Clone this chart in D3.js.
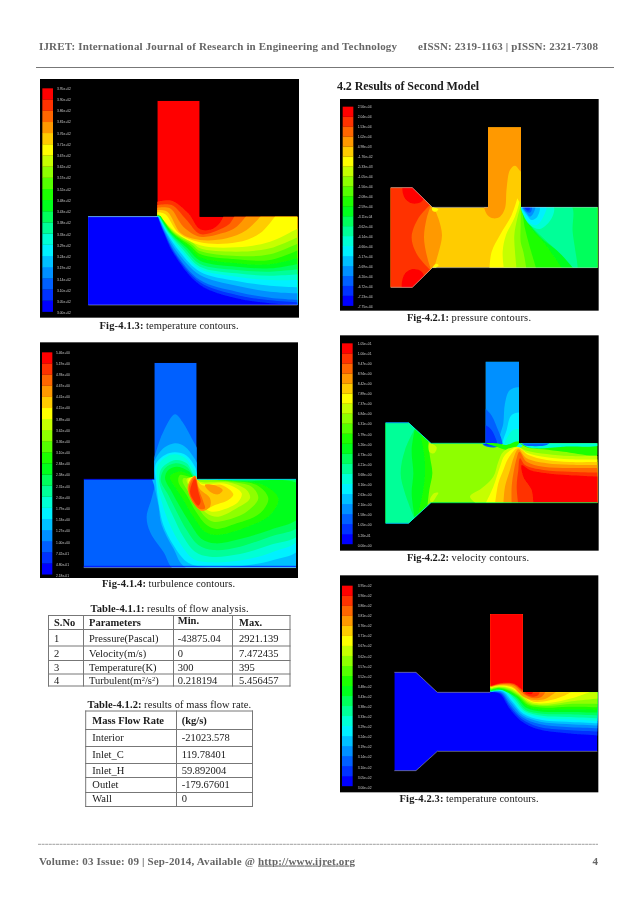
<!DOCTYPE html>
<html><head><meta charset="utf-8">
<script src="https://cdn.jsdelivr.net/npm/d3@7"></script>
<style>html,body{margin:0;background:#fff}svg{display:block}</style></head>
<body><svg id="page" width="638" height="903"></svg>
<script>
// Legend tick labels (top to bottom)
const temperatureLabels=["3.95e+02","3.90e+02","3.86e+02","3.81e+02","3.76e+02","3.71e+02","3.67e+02","3.62e+02","3.57e+02","3.52e+02","3.48e+02","3.43e+02","3.38e+02","3.33e+02","3.29e+02","3.24e+02","3.19e+02","3.14e+02","3.10e+02","3.05e+02","3.00e+02"];
const turbulenceLabels=["5.46e+00","5.19e+00","4.93e+00","4.67e+00","4.41e+00","4.15e+00","3.89e+00","3.62e+00","3.36e+00","3.10e+00","2.84e+00","2.58e+00","2.31e+00","2.05e+00","1.79e+00","1.53e+00","1.27e+00","1.00e+00","7.42e-01","4.80e-01","2.18e-01"];
const pressureLabels=["2.56e+04","2.04e+04","1.53e+04","1.02e+04","4.98e+03","-1.76e+02","-5.33e+03","-1.05e+04","-1.56e+04","-2.08e+04","-2.59e+04","-3.11e+04","-3.62e+04","-4.14e+04","-4.66e+04","-5.17e+04","-5.69e+04","-6.20e+04","-6.72e+04","-7.23e+04","-7.75e+04"];
const velocityLabels=["1.05e+01","1.00e+01","9.47e+00","8.94e+00","8.42e+00","7.89e+00","7.37e+00","6.84e+00","6.31e+00","5.79e+00","5.26e+00","4.73e+00","4.21e+00","3.68e+00","3.16e+00","2.63e+00","2.10e+00","1.58e+00","1.05e+00","5.26e-01","0.00e+00"];

// Flow domains and contour bands, in mesh units. Band: [level, isoline, optional closing points]
const fig413Domain=[[382,92],[509,92],[509,440],[802,440],[802,705],[175,705],[175,440],[382,440]];
const fig413Close=[[812,435],[812,720],[160,720],[160,380]];
const fig413Bands=[
[18,[[382,395],[425,392],[475,430],[510,478],[545,478],[570,458],[582,435]],fig413Close],
[17,[[382,405],[425,405],[470,450],[510,492],[560,482],[598,462],[615,435]],fig413Close],
[16,[[382,413],[420,415],[460,470],[510,500],[575,490],[620,470],[650,435]],fig413Close],
[15,[[382,420],[412,425],[453,490],[510,510],[590,505],[650,480],[695,435]],fig413Close],
[14,[[382,427],[405,432],[447,490],[510,517],[620,517],[690,490],[738,435]],fig413Close],
[13,[[384,432],[441,490],[510,526],[620,532],[720,515],[812,470]],fig413Close],
[12,[[388,436],[436,490],[490,520],[510,535],[620,545],[720,535],[812,497]],fig413Close],
[11,[[392,438],[432,490],[486,524],[510,543],[620,558],[720,553],[812,517]],fig413Close],
[10,[[392,439],[429,490],[482,528],[510,552],[620,568],[720,570],[812,537]],fig413Close],
[9,[[391,439],[426,490],[478,532],[510,562],[620,580],[720,583],[812,562]],fig413Close],
[8,[[390,440],[423,490],[472,535],[510,572],[620,590],[720,595],[812,580]],fig413Close],
[7,[[389,440],[420,490],[466,538],[510,582],[620,600],[720,605],[812,597]],fig413Close],
[6,[[388,440],[417,490],[460,540],[510,590],[620,610],[720,617],[812,612]],fig413Close],
[5,[[387,440],[414,490],[454,542],[510,597],[620,620],[720,630],[812,630]],fig413Close],
[4,[[386,441],[411,490],[448,544],[510,605],[620,633],[720,647],[812,652]],fig413Close],
[3,[[385,441],[408,490],[442,546],[510,615],[620,647],[720,665],[812,670]],fig413Close],
[2,[[384,441],[405,490],[436,548],[510,630],[620,665],[720,683],[812,690]],fig413Close],
[1,[[383.5,441],[403.5,490],[433,549],[510,637],[620,675],[720,691],[812,698]],fig413Close],
[0,[[383,441],[402,490],[430,550],[510,645],[620,685],[720,700],[812,706]],fig413Close],
];
const fig413Walls=[[-1,[[175,440],[382,440]]],[-1,[[175,705],[802,705]]]];

const fig414Domain=[[373,83],[500,83],[500,433],[798,433],[798,698],[161,698],[161,433],[373,433]];
const fig414Bands=[
[3,[[435,238],[460,265],[485,310],[510,360],[520,425],[810,425],[810,710],[440,710],[400,650],[360,590],[350,545],[365,490],[375,440],[365,400],[378,350],[400,290]]],
[4,[[435,325],[465,335],[490,365],[510,400],[525,425],[810,425],[810,710],[470,700],[430,640],[395,570],[385,510],[372,450],[362,410],[395,345]]],
[5,[[435,352],[470,362],[495,395],[510,425],[810,425],[810,640],[730,675],[640,692],[520,696],[470,680],[430,630],[400,570],[385,500],[378,440],[376,390],[405,360]]],
[6,[[435,358],[465,368],[490,400],[510,428],[810,428],[810,610],[730,650],[640,675],[540,682],[490,672],[450,625],[420,570],[398,510],[382,440],[384,390],[410,365]]],
[7,[[437,375],[470,385],[492,420],[510,434],[810,436],[810,595],[720,630],[630,657],[540,665],[495,650],[460,605],[430,545],[405,490],[388,440],[395,400]]],
[8,[[437,385],[470,395],[495,430],[510,438],[810,442],[810,570],[720,605],[630,635],[550,645],[505,630],[470,585],[440,530],[415,480],[392,435],[405,400]]],
[9,[[440,395],[475,408],[497,432],[600,440],[810,450],[810,545],[720,585],[630,612],[555,625],[515,612],[480,565],[450,515],[425,470],[405,430],[415,405]]],
[10,[[445,410],[480,420],[498,432],[600,437],[700,450],[745,490],[720,540],[640,580],[560,600],[525,590],[490,545],[460,495],[438,460],[420,425]]],
[11,[[450,420],[490,428],[600,437],[680,450],[715,490],[690,535],[620,565],[560,582],[530,570],[498,530],[470,480],[445,440]]],
[12,[[460,430],[490,432],[600,440],[665,455],[685,490],[650,530],[590,555],[550,560],[525,545],[500,510],[475,470],[458,440]]],
[13,[[470,432],[492,428],[510,440],[600,443],[650,465],[660,490],[620,520],[565,545],[530,535],[500,495],[480,460]]],
[14,[[475,435],[495,425],[512,445],[590,447],[635,475],[625,500],[585,522],[545,530],[520,515],[495,480]]],
[15,[[478,440],[495,423],[515,450],[575,450],[610,478],[595,495],[555,510],[530,520],[505,500],[485,470]]],
[16,[[473,455],[495,422],[508,460],[540,490],[540,515],[515,528],[490,505]]],
[16,[[525,450],[550,450],[578,465],[565,478],[540,470]]],
[17,[[476,460],[495,424],[505,460],[520,500],[525,520],[510,522],[488,500]]],
[18,[[480,470],[495,430],[505,470],[512,500],[505,512],[490,495]]],
];
const fig414Walls=[[0,[[161,433],[373,433]]],[4,[[500,433],[798,433]]],[0,[[161,694],[798,694]]],[-1,[[161,698],[798,698]]]];

const fig421Domain=[[182,338],[247,338],[307,397],[474,397],[474,157],[573,157],[573,397],[802,397],[802,578],[307,578],[247,637],[182,637]];
const fig421InletClose=[[300,660],[170,660],[170,320],[300,320]];
const fig421OutletClose=[[812,585],[812,390],[573,390]];
const fig421Bands=[
[16,[[590,300],[573,290],[555,272],[540,285],[530,340],[525,400],[510,425],[490,430],[472,420],[462,397]],[[462,140],[590,140]]],
[16,[[308,390],[325,430],[336,480],[325,535],[310,585]],fig421InletClose],
[17,[[303,390],[290,430],[282,487],[290,540],[303,584]],fig421InletClose],
[18,[[300,390],[265,430],[245,487],[262,540],[300,584]],fig421InletClose],
[19,[[220,330],[222,365],[245,385],[272,382],[282,365],[250,330]]],
[19,[[218,645],[222,600],[245,583],[272,588],[282,605],[250,645]]],
[14,[[306,397],[325,403],[318,410],[308,408]]],
[14,[[308,578],[318,566],[326,570],[315,580]]],
[14,[[562,370],[545,420],[510,480],[485,530],[478,585]],fig421OutletClose],
[13,[[570,375],[555,425],[528,480],[518,530],[522,585]],fig421OutletClose],
[12,[[573,390],[562,430],[553,480],[555,530],[560,585]],fig421OutletClose],
[11,[[573,392],[572,450],[572,500],[580,530],[590,585]],fig421OutletClose],
[10,[[575,395],[585,460],[595,500],[620,585]],fig421OutletClose],
[9,[[575,396],[600,455],[640,500],[700,585]],fig421OutletClose],
[8,[[575,396],[600,450],[640,495],[700,540],[745,590]],fig421OutletClose],
[7,[[575,390],[722,390],[728,470],[742,590],[735,585],[695,540],[640,490],[598,445]]],
[6,[[575,393],[670,393],[665,430],[630,462],[600,450],[580,420]]],
[5,[[575,393],[648,393],[640,425],[620,450],[600,445],[582,420]]],
[4,[[575,393],[628,393],[622,425],[605,435],[590,420]]],
[3,[[577,393],[615,393],[610,415],[600,425],[590,415]]],
[2,[[578,393],[605,393],[602,412],[592,412]]],
[1,[[582,393],[598,393],[598,406],[590,405]]],
];
const fig421Walls=[[-1,[[182,338],[247,338],[307,397],[474,397]]],[-1,[[182,637],[247,637],[307,578],[802,578]]],[-1,[[573,397],[802,397]]]];

const fig422Domain=[[167,278],[235,278],[303,340],[467,340],[467,95],[567,95],[567,340],[802,340],[802,518],[303,518],[235,580],[167,580]];
const fig422InletClose=[[290,600],[150,600],[150,260],[290,260]];
const fig422OutletClose=[[812,526]];
const fig422Bands=[
[10,[[295,333],[300,380],[307,430],[298,480],[292,532]],fig422InletClose],
[9,[[268,300],[282,370],[285,430],[278,490],[262,560]],fig422InletClose],
[8,[[255,295],[245,360],[250,430],[245,490],[255,570]],fig422InletClose],
[7,[[255,295],[225,360],[212,430],[225,490],[255,570]],fig422InletClose],
[13,[[298,340],[320,352],[312,370],[298,365]]],
[13,[[300,510],[312,490],[325,488],[320,498],[305,518]]],
[3,[[460,90],[575,90]],[[575,342],[460,342]]],
[4,[[575,175],[540,180],[525,220],[520,280],[510,330],[530,345],[575,345]]],
[5,[[575,250],[545,255],[530,300],[520,345],[575,350]]],
[6,[[572,300],[550,300],[530,325],[525,345],[572,345]]],
[2,[[460,235],[480,250],[500,290],[515,345],[460,345]]],
[1,[[460,285],[480,295],[495,320],[500,342],[460,342]]],
[10,[[467,340],[500,350],[530,360],[550,358],[568,336],[555,335],[530,345],[500,340]]],
[10,[[565,335],[812,335],[812,372],[700,365],[640,358],[590,352]]],
[6,[[570,335],[812,335],[812,345],[700,350],[620,355],[590,350]]],
[2,[[575,335],[660,335],[650,345],[600,348],[582,345]]],
[13,[[440,522],[420,500],[455,475],[490,440],[505,395],[520,365],[560,350],[590,362],[650,372],[720,378],[812,378]],fig422OutletClose],
[14,[[465,524],[490,470],[510,410],[525,375],[562,352],[590,368],[650,382],[720,388],[812,388]],fig422OutletClose],
[15,[[495,524],[505,460],[520,420],[535,385],[564,354],[595,375],[650,390],[720,396],[812,396]],fig422OutletClose],
[16,[[520,524],[525,470],[540,420],[552,380],[565,358],[590,385],[650,400],[720,404],[812,405]],fig422OutletClose],
[17,[[545,524],[545,470],[552,420],[560,385],[568,365],[590,395],[640,410],[720,414],[812,414]],fig422OutletClose],
[18,[[565,524],[560,470],[565,420],[570,385],[585,405],[640,420],[720,425],[812,428]],fig422OutletClose],
[19,[[610,524],[605,480],[580,440],[575,405],[600,420],[650,430],[720,436],[812,440]],fig422OutletClose],
];
const fig422Walls=[[2,[[167,278],[235,278]]],[5,[[235,278],[303,340]]],[7,[[303,340],[467,340]]],[3,[[167,580],[235,580]]],[5,[[235,580],[303,518]]],[8,[[303,518],[802,518]]]];

const fig423Domain=[[193,307],[258,307],[322,367],[481,367],[481,133],[578,133],[578,367],[802,367],[802,544],[322,544],[258,602],[193,602]];
const fig423Close=[[812,120],[470,120]];
const fig423Bands=[
[1,[[481,366],[510,372],[538,415],[572,452],[625,478],[710,490],[812,497]],fig423Close],
[2,[[481,366],[512,370],[540,410],[574,446],[625,470],[710,480],[812,485]],fig423Close],
[3,[[481,366],[514,368],[542,405],[576,441],[628,462],[710,471],[812,475]],fig423Close],
[4,[[481,366],[516,366],[545,400],[578,436],[630,455],[710,462],[812,467]],fig423Close],
[5,[[481,365],[518,364],[548,396],[580,431],[632,449],[710,455],[812,460]],fig423Close],
[6,[[481,365],[520,362],[551,392],[582,427],[634,443],[710,448],[812,453]],fig423Close],
[7,[[481,364],[522,361],[554,388],[584,423],[636,437],[710,441],[812,445]],fig423Close],
[8,[[481,364],[524,361],[557,385],[586,419],[638,431],[710,433],[812,437]],fig423Close],
[9,[[481,363],[505,358],[528,365],[559,382],[590,414],[640,425],[710,426],[812,428]],fig423Close],
[10,[[481,362],[506,356],[530,363],[561,380],[593,410],[643,419],[710,418],[812,420]],fig423Close],
[11,[[481,360],[507,355],[533,361],[563,378],[596,406],[647,413],[715,410],[812,412]],fig423Close],
[12,[[481,358],[508,353],[536,359],[565,376],[599,403],[650,408],[720,402],[812,402]],fig423Close],
[13,[[481,356],[509,351],[539,357],[568,374],[602,400],[655,404],[725,394],[812,385]],fig423Close],
[14,[[481,354],[510,349],[542,355],[571,372],[606,397],[655,399],[725,385],[790,362]],fig423Close],
[15,[[481,352],[511,347],[545,352],[575,376],[610,395],[650,393],[700,378],[730,362]],fig423Close],
[16,[[481,351],[511,345],[548,350],[580,380],[612,390],[645,387],[670,372],[690,358]],fig423Close],
[17,[[481,350],[512,343],[550,346],[585,375],[612,385],[635,380],[650,360]],fig423Close],
[18,[[481,349],[512,341],[552,343],[590,375],[610,380],[625,375],[632,358]],fig423Close],
[19,[[481,348],[513,339],[553,341],[572,355],[590,370],[605,372],[612,360]],fig423Close],
];
const fig423Walls=[[-1,[[193,307],[258,307],[322,367],[481,367]]],[-1,[[193,602],[258,602],[322,544],[802,544]]]];

// Tables
const flowHeader=["S.No","Parameters","Min.","Max."];
const flowNumbers=["1","2","3","4"];
const flowParameters=["Pressure(Pascal)","Velocity(m/s)","Temperature(K)","Turbulent(m²/s²)"];
const flowMin=["-43875.04","0","300","0.218194"];
const flowMax=["2921.139","7.472435","395","5.456457"];
const massHeader=["Mass Flow Rate","(kg/s)"];
const massZones=["Interior","Inlet_C","Inlet_H","Outlet","Wall"];
const massRates=["-21023.578","119.78401","59.892004","-179.67601","0"];

// ---- drawing ----
const svg=d3.select("#page");
const defs=svg.append("defs");
defs.append("filter").attr("id","soft").attr("x","-2%").attr("y","-2%").attr("width","104%").attr("height","104%")
  .append("feGaussianBlur").attr("stdDeviation",0.6);
defs.append("filter").attr("id","softText").attr("x","-5%").attr("y","-30%").attr("width","110%").attr("height","160%")
  .append("feGaussianBlur").attr("stdDeviation",0.22);

const hue=d3.scaleLinear().domain([0,5.3,9.5,14,19]).range([240,180,120,60,0]);
const levelColor=k=>k<0?"#c4cbe6":d3.hsl(hue(k),1,0.5).formatHex();

const panels=[
 {id:"a",crop:[30,70,290,265],frame:[30,27,807,743],legend:[37,55,69,725],labelX:81,labels:temperatureLabels,domain:fig413Domain,base:19,bands:fig413Bands,walls:fig413Walls},
 {id:"b",crop:[30,335,290,260],frame:[30,22,804,729],legend:[36,52,67,718],labelX:78,labels:turbulenceLabels,domain:fig414Domain,base:2,bands:fig414Bands,walls:fig414Walls},
 {id:"c",crop:[330,75,280,255],frame:[30,72,806,707],legend:[38,95,70,692],labelX:83,labels:pressureLabels,domain:fig421Domain,base:15,bands:fig421Bands,walls:fig421Walls},
 {id:"d",crop:[330,330,280,240],frame:[30,16,806,662],legend:[36,40,68,642],labelX:83,labels:velocityLabels,domain:fig422Domain,base:12,bands:fig422Bands,walls:fig422Walls},
 {id:"e",crop:[330,570,280,245],frame:[30,16,805,667],legend:[36,47,68,648],labelX:83,labels:temperatureLabels,domain:fig423Domain,base:0,bands:fig423Bands,walls:fig423Walls},
];

panels.forEach(p=>{
  const [cx,cy,cw,ch]=p.crop;
  const x=d3.scaleLinear().domain([0,cw*3]).range([cx,cx+cw]);
  const y=d3.scaleLinear().domain([0,ch*3]).range([cy,cy+ch]);
  const g=svg.append("g").attr("filter","url(#soft)");
  const [fx0,fy0,fx1,fy1]=p.frame;
  g.append("rect").attr("x",x(fx0)).attr("y",y(fy0)).attr("width",x(fx1)-x(fx0)).attr("height",y(fy1)-y(fy0)).attr("fill","#000");

  // legend
  const [lx0,ly0,lx1,ly1]=p.legend;
  const band=d3.scaleBand().domain(d3.range(20)).range([y(ly1),y(ly0)]);
  g.selectAll(null).data(d3.range(20)).join("rect")
    .attr("x",x(lx0)).attr("width",x(lx1)-x(lx0))
    .attr("y",d=>band(d)).attr("height",band.bandwidth()+0.2)
    .attr("fill",levelColor);
  const tick=d3.scalePoint().domain(p.labels).range([y(ly0),y(ly1)+1.5]);
  svg.append("g").attr("filter","url(#soft)").selectAll(null).data(p.labels).join("text")
    .attr("x",x(p.labelX)).attr("y",d=>tick(d)+1.2)
    .attr("font-family","Liberation Sans").attr("font-size",3.3).attr("fill","#c8c8c8").text(d=>d);

  // contour field
  const clipId="clip-"+p.id;
  const toPx=d=>[x(d[0]),y(d[1])];
  const polyPath=d3.line().x(d=>x(d[0])).y(d=>y(d[1]));
  defs.append("clipPath").attr("id",clipId).append("path").attr("d",polyPath(p.domain)+"Z");
  const field=g.append("g").attr("clip-path",`url(#${clipId})`);
  field.append("path").attr("d",polyPath(p.domain)+"Z").attr("fill",levelColor(p.base));
  const openLine=d3.line().x(d=>x(d[0])).y(d=>y(d[1])).curve(d3.curveCatmullRom.alpha(0.5));
  const closedLine=d3.line().x(d=>x(d[0])).y(d=>y(d[1])).curve(d3.curveCatmullRomClosed.alpha(0.5));
  field.selectAll(null).data(p.bands).join("path")
    .attr("fill",d=>levelColor(d[0]))
    .attr("d",d=>{
      if(!d[2]) return closedLine(d[1]);
      return openLine(d[1])+d[2].map(q=>"L"+toPx(q).join(",")).join("")+"Z";
    });
  g.selectAll(null).data(p.walls).join("path")
    .attr("fill","none").attr("stroke",d=>levelColor(d[0])).attr("stroke-width",0.8)
    .attr("stroke-opacity",d=>d[0]<0?0.6:1)
    .attr("d",d=>polyPath(d[1]));
});

// ---- page text ----
const serif="Liberation Serif";
const textLayer=svg.append("g").attr("filter","url(#softText)").attr("font-family",serif);
function put(x,y,str,o={}){
  const t=textLayer.append("text").attr("x",x).attr("y",y)
    .attr("font-size",o.size||10.5).attr("fill",o.fill||"#1a1a1a")
    .attr("font-weight",o.bold?"bold":"normal").text(str);
  if(o.width) t.attr("textLength",o.width).attr("lengthAdjust","spacing");
  if(o.underline) t.attr("text-decoration","underline");
  return t;
}
function caption(x,y,b,n,w1,w){
  put(x,y,b,{bold:true,width:w1});
  put(x+w1+2.6,y,n,{width:w-w1-2.6});
}
put(39,49.5,"IJRET: International Journal of Research in Engineering and Technology",{bold:true,size:11,fill:"#666",width:358});
put(418,49.5,"eISSN: 2319-1163 | pISSN: 2321-7308",{bold:true,size:11,fill:"#666",width:180});
put(39,864.5,"Volume: 03 Issue: 09 | Sep-2014, Available @",{bold:true,size:11,fill:"#666",width:216});
put(258,864.5,"http://www.ijret.org",{bold:true,size:11,fill:"#666",width:97,underline:true});
put(592.5,864.5,"4",{bold:true,size:11,fill:"#666"});

put(337,90,"4.2 Results of Second Model",{bold:true,size:12,width:142});
caption(99.5,329,"Fig-4.1.3:","temperature contours.",44,139);
caption(102,587,"Fig-4.1.4:","turbulence contours.",44,133);
caption(407,320.5,"Fig-4.2.1:","pressure contours.",42,124);
caption(407,561,"Fig-4.2.2:","velocity contours.",42,122);
caption(399.5,802,"Fig-4.2.3:","temperature contours.",44,139);
caption(90.5,611.5,"Table-4.1.1:","results of flow analysis.",54,158);
caption(87.5,708,"Table-4.1.2:","results of mass flow rate.",54,163.5);

const ruleLayer=svg.append("g").attr("filter","url(#softText)");
ruleLayer.append("line").attr("x1",36).attr("x2",614).attr("y1",67.5).attr("y2",67.5).attr("stroke","#777").attr("stroke-width",1);
ruleLayer.append("line").attr("x1",38).attr("x2",598).attr("y1",844.3).attr("y2",844.3).attr("stroke","#888").attr("stroke-width",0.8).attr("stroke-dasharray","3 0.6");

function grid(xs,ys){
  ys.forEach(v=>ruleLayer.append("line").attr("x1",xs[0]-0.5).attr("x2",xs[xs.length-1]+0.5).attr("y1",v).attr("y2",v).attr("stroke","#777").attr("stroke-width",1));
  xs.forEach(v=>ruleLayer.append("line").attr("x1",v).attr("x2",v).attr("y1",ys[0]-0.5).attr("y2",ys[ys.length-1]+0.5).attr("stroke","#777").attr("stroke-width",1));
}
grid([48.5,83.5,173.5,232.5,290],[615.5,629.5,646,660.5,674,686]);
grid([85.7,176.5,252.5],[711,729.5,746.5,763.5,777.5,792.5,806.5]);

const flowX=[54,89,177.8,239];
const flowHeadY=[625.7,625.7,623.8,626.3];
flowHeader.forEach((h,i)=>put(flowX[i],flowHeadY[i],h,{bold:true}));
const flowY=[641.7,657,671,684];
flowNumbers.forEach((d,i)=>put(flowX[0],flowY[i],d));
flowParameters.forEach((d,i)=>{
  if(i<3){put(flowX[1],flowY[i],d);return;}
  const t=put(flowX[1],flowY[i],"Turbulent(m");
  t.append("tspan").attr("font-size",6.5).attr("dy",-3.4).text("2");
  t.append("tspan").attr("dy",3.4).text("/s");
  t.append("tspan").attr("font-size",6.5).attr("dy",-3.4).text("2");
  t.append("tspan").attr("dy",3.4).text(")");
});
flowMin.forEach((d,i)=>put(flowX[2],flowY[i],d));
flowMax.forEach((d,i)=>put(flowX[3],flowY[i],d));
put(92.3,724.3,massHeader[0],{bold:true});
put(181.7,724.3,massHeader[1],{bold:true});
const massY=[740.7,757.7,774,788,802.3];
massZones.forEach((d,i)=>put(92.3,massY[i],d));
massRates.forEach((d,i)=>put(181.7,massY[i],d));
</script></body></html>
